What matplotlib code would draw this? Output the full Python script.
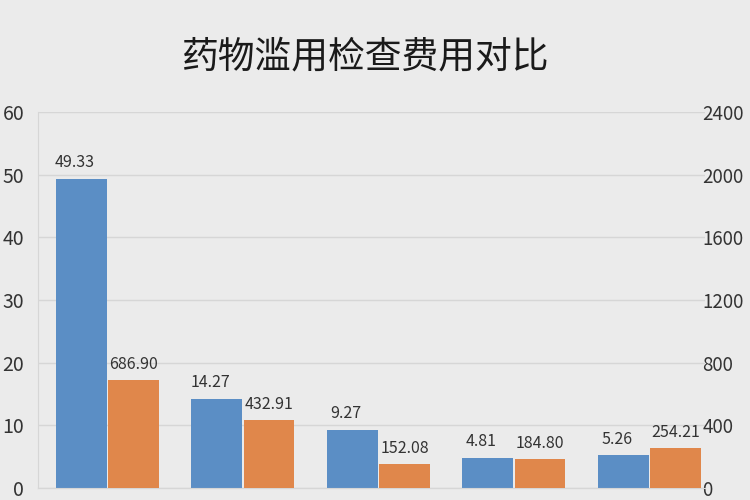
import numpy as np
import matplotlib.pyplot as plt

plt.rcParams['font.family'] = ['Noto Sans CJK SC', 'DejaVu Sans']

# Data (blue on left axis, orange on right axis)
categories = ['类别1', '类别2', '类别3', '类别4', '类别5']
blue_values = [49.33, 14.27, 9.27, 4.81, 5.26]
orange_values = [686.90, 432.91, 152.08, 184.80, 254.21]
left_ticks = [0, 10, 20, 30, 40, 50, 60]
right_ticks = [0, 400, 800, 1200, 1600, 2000, 2400]

bg = '#ebebeb'
blue = '#5b8ec5'
orange = '#e0874b'
grid_c = '#d6d6d6'
text_c = '#333333'

fig = plt.figure(figsize=(7.5, 5), dpi=100, facecolor=bg)
ax = fig.add_axes([0.051, 0.024, 0.889, 0.752])
ax.set_facecolor(bg)
ax2 = ax.twinx()

x = np.arange(len(categories))
w = 0.375

bars1 = ax.bar(x - w / 2 - 0.005, blue_values, w, color=blue, zorder=3)
bars2 = ax2.bar(x + w / 2 + 0.005, orange_values, w, color=orange, zorder=3)

ax.set_xlim(-0.51, 4.41)
ax.set_ylim(0, 60)
ax2.set_ylim(0, 2400)
ax.set_yticks(left_ticks)
ax2.set_yticks(right_ticks)
ax.set_xticks(x)
ax.set_xticklabels(categories)
ax.tick_params(axis='x', labelbottom=False, length=0)
ax.tick_params(axis='y', length=0, pad=10, labelsize=14, labelcolor=text_c)
ax2.tick_params(axis='y', length=0, pad=-2, labelsize=13.5, labelcolor=text_c)

ax.grid(axis='y', color=grid_c, linewidth=1, zorder=0)
ax.set_axisbelow(True)
for a in (ax, ax2):
    a.spines['top'].set_visible(False)
    a.spines['right'].set_visible(False)
    a.spines['left'].set_color(grid_c)
    a.spines['bottom'].set_color(grid_c)
ax2.spines['left'].set_visible(False)

# value labels
for b, v in zip(bars1, blue_values):
    ax.text(b.get_x() + b.get_width() / 2 - 0.05, v + 1.2, f'{v:.2f}',
            ha='center', va='bottom', fontsize=11.5, color=text_c, zorder=4)
for b, v in zip(bars2, orange_values):
    ax2.text(b.get_x() + b.get_width() / 2, v + 48, f'{v:.2f}',
             ha='center', va='bottom', fontsize=11.5, color=text_c, zorder=4)

fig.text(0.487, 0.886, '药物滥用检查费用对比', ha='center', va='center',
         fontsize=26.5, color='#1a1a1a')

fig.savefig('out.png', dpi=100, facecolor=bg)
